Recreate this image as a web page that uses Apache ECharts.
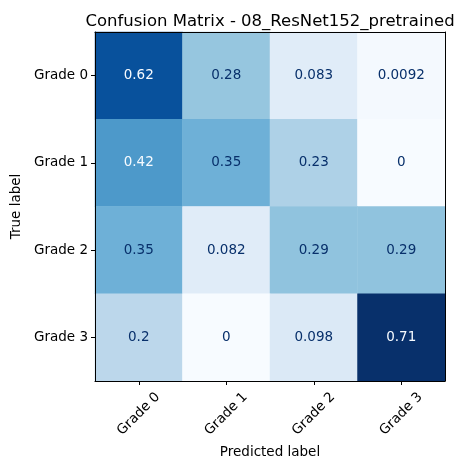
<!DOCTYPE html>
<html><head><meta charset="utf-8">
<script src="https://cdn.jsdelivr.net/npm/echarts@6/dist/echarts.min.js"></script>
<style>html,body{margin:0;padding:0;background:#fff}#c{width:465px;height:470px}</style>
</head><body><div id="c"></div>
<script>
const predLabels = ['Grade 0', 'Grade 1', 'Grade 2', 'Grade 3'];
const trueLabels = ['Grade 0', 'Grade 1', 'Grade 2', 'Grade 3'];
const row0 = [0.62, 0.28, 0.083, 0.0092];
const row1 = [0.42, 0.35, 0.23, 0];
const row2 = [0.35, 0.082, 0.29, 0.29];
const row3 = [0.2, 0, 0.098, 0.71];
const matrix = [row0, row1, row2, row3];

const data = [];
matrix.forEach((r, i) => r.forEach((v, j) => data.push([j, i, v])));
const vmax = Math.max(...data.map(d => d[2]));
const thresh = vmax / 2;
const font = 'DejaVu Sans';

const chart = echarts.init(document.getElementById('c'), null, {renderer: 'canvas'});
chart.setOption({
  animation: false,
  backgroundColor: '#fff',
  title: {
    text: 'Confusion Matrix - 08_ResNet152_pretrained',
    left: 265, textAlign: 'center', top: 8,
    textStyle: {fontFamily: font, fontSize: 16.5, fontWeight: 'normal', color: '#000'}
  },
  grid: {left: 95, top: 32, width: 350, height: 349},
  xAxis: [{
    type: 'category', data: predLabels, position: 'bottom', z: 10,
    name: 'Predicted label', nameLocation: 'middle', nameGap: 64,
    nameTextStyle: {fontFamily: font, fontSize: 13.5, color: '#000'},
    axisLine: {show: true, lineStyle: {color: '#000', width: 1}},
    axisTick: {show: true, alignWithLabel: true, length: 4, lineStyle: {color: '#000'}},
    axisLabel: {rotate: 45, margin: 33, align: 'center', verticalAlign: 'middle',
      fontFamily: font, fontSize: 13.5, color: '#000'},
    splitLine: {show: false}
  }, {
    type: 'category', data: predLabels, position: 'top', z: 10,
    axisLine: {show: true, onZero: false, lineStyle: {color: '#000', width: 1}},
    axisTick: {show: false}, axisLabel: {show: false}, splitLine: {show: false}
  }],
  yAxis: [{
    type: 'category', data: trueLabels, inverse: true, position: 'left', z: 10,
    name: 'True label', nameLocation: 'middle', nameGap: 72, nameRotate: 90,
    nameTextStyle: {fontFamily: font, fontSize: 13.5, color: '#000'},
    axisLine: {show: true, lineStyle: {color: '#000', width: 1}},
    axisTick: {show: true, alignWithLabel: true, length: 4, lineStyle: {color: '#000'}},
    axisLabel: {margin: 7, fontFamily: font, fontSize: 13.5, color: '#000'},
    splitLine: {show: false}
  }, {
    type: 'category', data: trueLabels, inverse: true, position: 'right', z: 10,
    axisLine: {show: true, onZero: false, lineStyle: {color: '#000', width: 1}},
    axisTick: {show: false}, axisLabel: {show: false}, splitLine: {show: false}
  }],
  visualMap: {
    show: false, min: 0, max: vmax, dimension: 2,
    inRange: {color: ['#f7fbff','#deebf7','#c6dbef','#9ecae1','#6baed6','#4292c6','#2171b5','#08519c','#08306b']}
  },
  series: [{
    type: 'heatmap', xAxisIndex: 0, yAxisIndex: 0, z: 2,
    data: data.map(d => ({value: d, label: {color: d[2] > thresh ? '#f7fbff' : '#08306b'}})),
    label: {
      show: true, fontFamily: font, fontSize: 13.5,
      formatter: p => String(p.value[2])
    },
    itemStyle: {borderWidth: 0},
    emphasis: {disabled: true}
  }]
});
</script></body></html>
